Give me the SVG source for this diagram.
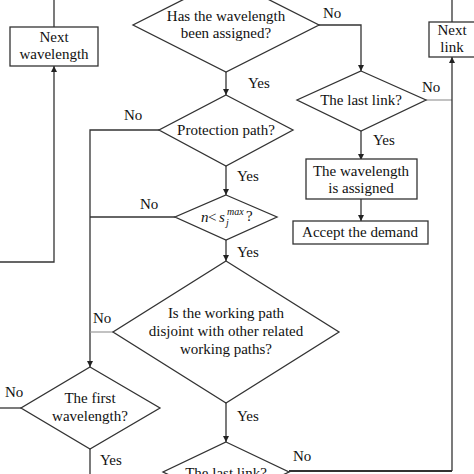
<svg xmlns="http://www.w3.org/2000/svg" width="474" height="474" viewBox="0 0 474 474">
<defs>
<marker id="arr" viewBox="0 0 10 10" refX="10" refY="5" markerWidth="6" markerHeight="6" orient="auto" markerUnits="userSpaceOnUse">
<path d="M0,0 L10,5 L0,10 z" fill="#222"/>
</marker>
<style>
.n{fill:#fff;stroke:#333;stroke-width:1.3}
.t{font-family:"Liberation Serif","Times New Roman",serif;font-size:15px;fill:#111;text-anchor:middle}
.l{font-family:"Liberation Serif","Times New Roman",serif;font-size:15px;fill:#111}
.c{fill:none;stroke:#333;stroke-width:1.3}
.g{fill:none;stroke:#999;stroke-width:1.2}
.i{font-style:italic}
</style>
</defs>
<rect width="474" height="474" fill="#fff"/>
<g id="connectors">
<path class="c" d="M226,72 V95" marker-end="url(#arr)"/>
<path class="c" d="M318,25 H361 V71" marker-end="url(#arr)"/>
<path class="c" d="M361,131 V160" marker-end="url(#arr)"/>
<path class="c" d="M361,199 V221" marker-end="url(#arr)"/>
<path class="g" d="M426,100 H452"/>
<path class="c" d="M452,471 V57" marker-end="url(#arr)"/>
<path class="c" d="M452,22 V0"/>
<path class="c" d="M289,471 H452" style="stroke-width:2"/>
<path class="c" d="M226,166 V195" marker-end="url(#arr)"/>
<path class="c" d="M159,130 H90 V367" marker-end="url(#arr)"/>
<path class="c" d="M175,217 H90"/>
<path class="c" d="M226,240 V261" marker-end="url(#arr)"/>
<path class="g" d="M113,332 H90"/>
<path class="c" d="M226,403 V442" marker-end="url(#arr)"/>
<path class="c" d="M21,408 H0"/>
<path class="c" d="M90,449 V474"/>
<path class="c" d="M0,262 H54 V66" marker-end="url(#arr)"/>
<path class="c" d="M54,27 V0"/>
<text class="l" x="248" y="88">Yes</text>
<text class="l" x="323" y="18">No</text>
<text class="l" x="373" y="145">Yes</text>
<text class="l" x="422" y="92">No</text>
<text class="l" x="124" y="120">No</text>
<text class="l" x="237" y="181">Yes</text>
<text class="l" x="140" y="209">No</text>
<text class="l" x="237" y="257">Yes</text>
<text class="l" x="93" y="323">No</text>
<text class="l" x="237" y="421">Yes</text>
<text class="l" x="5" y="397">No</text>
<text class="l" x="100" y="465">Yes</text>
<text class="l" x="293" y="461">No</text>
</g>
<g id="assigned-q">
<polygon class="n" points="226,-22 319,25 226,72 133,25"/>
<text class="t" x="226" y="21">Has the wavelength</text>
<text class="t" x="226" y="38">been assigned?</text>
</g>
<g id="next-wavelength">
<rect class="n" x="10" y="27" width="88" height="39"/>
<text class="t" x="54" y="42">Next</text>
<text class="t" x="54" y="59">wavelength</text>
</g>
<g id="next-link">
<rect class="n" x="429" y="22" width="50" height="35"/>
<text class="t" x="452" y="35">Next</text>
<text class="t" x="452" y="52">link</text>
</g>
<g id="last-link-top">
<polygon class="n" points="361,71 426,100 361,131 297,100"/>
<text class="t" x="361" y="105">The last link?</text>
</g>
<g id="wavelength-assigned">
<rect class="n" x="306" y="159" width="111" height="40"/>
<text class="t" x="361" y="176">The wavelength</text>
<text class="t" x="361" y="193">is assigned</text>
</g>
<g id="accept">
<rect class="n" x="293" y="221" width="135" height="23"/>
<text class="t" x="360" y="237">Accept the demand</text>
</g>
<g id="protection-q">
<polygon class="n" points="226,95 293,130 226,166 159,130"/>
<text class="t" x="226" y="135">Protection path?</text>
</g>
<g id="n-q">
<polygon class="n" points="226,195 277,217 226,240 175,217"/>
<text class="l"><tspan class="i" x="201" y="222">n</tspan><tspan x="208" y="222">&lt;</tspan><tspan class="i" x="219" y="222">s</tspan><tspan class="i" x="226" y="226" style="font-size:10px">j</tspan><tspan class="i" x="227" y="215" style="font-size:10px">max</tspan><tspan x="246" y="221">?</tspan></text>
</g>
<g id="disjoint-q">
<polygon class="n" points="226,261 339,332 226,403 113,332"/>
<text class="t" x="226" y="318">Is the working path</text>
<text class="t" x="226" y="336">disjoint with other related</text>
<text class="t" x="226" y="354">working paths?</text>
</g>
<g id="first-wavelength-q">
<polygon class="n" points="90,367 160,408 90,449 21,408"/>
<text class="t" x="90" y="403">The first</text>
<text class="t" x="90" y="421">wavelength?</text>
</g>
<g id="last-link-bottom">
<polygon class="n" points="226,442 289,472 226,502 163,472"/>
<text class="t" x="226" y="478">The last link?</text>
</g>
</svg>
